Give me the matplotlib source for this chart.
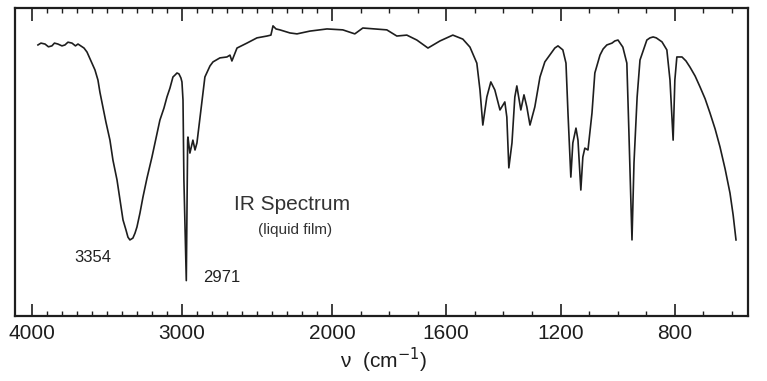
import numpy as np
import matplotlib
matplotlib.use('Agg')
import matplotlib.pyplot as plt
from matplotlib.ticker import FixedLocator, NullFormatter

plt.rcParams['font.family'] = ['Liberation Sans', 'DejaVu Sans']

# wavenumber (cm-1) and transmittance (%)
wn = [3960, 3940, 3913, 3890, 3867, 3850, 3827, 3800, 3780, 3760, 3733, 3710,
      3693, 3653, 3633, 3600, 3580, 3560, 3547, 3527, 3507, 3480, 3460, 3433,
      3413, 3393, 3373, 3360, 3347, 3327, 3313, 3300, 3280, 3260, 3233, 3200,
      3173, 3147, 3120, 3100, 3080, 3060, 3047, 3033, 3020, 3007, 3000,
      2993, 2987, 2971, 2965, 2962, 2960, 2947, 2927, 2913, 2900, 2880, 2847,
      2813, 2793, 2747, 2700, 2680, 2667, 2633, 2567, 2500, 2433, 2407, 2393,
      2373, 2347, 2280, 2233, 2147, 2033,
      1962, 1920, 1892, 1850, 1808, 1773, 1738, 1703, 1664, 1622, 1577, 1542,
      1517, 1493, 1482, 1472, 1458, 1444, 1430, 1412, 1395, 1388, 1381, 1370,
      1360, 1353, 1339, 1328, 1318, 1307, 1290, 1272, 1255, 1230, 1220, 1209,
      1192, 1181, 1174, 1164, 1157, 1146, 1139, 1129, 1122, 1115, 1104, 1090,
      1080, 1062, 1051, 1038, 1020, 1010, 999, 982, 968, 961, 950, 943, 932,
      922, 898, 887, 876, 865, 845, 828, 817, 806, 800, 793, 775, 761, 747,
      729, 712, 694, 677, 659, 642, 624, 607, 596, 586]
trans = [88.0, 88.6, 88.3, 87.4, 87.7, 88.6, 88.3, 87.7, 88.0, 88.9, 88.6, 87.7,
         88.3, 87.0, 85.7, 82.1, 79.9, 76.6, 72.7, 67.9, 63.0, 57.1, 50.6, 44.2,
         37.7, 31.2, 27.9, 25.6, 24.7, 25.3, 26.9, 28.9, 33.4, 38.6, 44.8, 51.6,
         57.8, 63.6, 67.5, 71.1, 74.0, 77.6, 78.2, 78.9, 78.6, 77.3, 76.0,
         70.1, 44.2, 11.5, 40.0, 57.1, 58.1, 52.9, 57.1, 53.9, 56.2, 64.3, 77.6,
         81.2, 82.5, 83.8, 84.1, 84.7, 82.8, 87.0, 88.6, 90.3, 90.9, 91.2, 94.2,
         93.2, 92.9, 91.9, 91.6, 92.5, 93.2,
         92.9, 91.6, 93.5, 93.2, 92.9, 90.9, 91.2, 89.6, 87.0, 89.3, 91.2, 89.9,
         87.3, 82.1, 73.4, 62.0, 71.1, 76.0, 73.4, 66.9, 69.5, 64.6, 48.1, 56.2,
         71.1, 74.7, 66.9, 71.8, 67.9, 62.0, 67.9, 77.6, 82.5, 85.7, 87.0, 87.7,
         86.4, 82.1, 65.9, 45.1, 56.2, 61.0, 57.1, 40.9, 51.6, 54.5, 53.9, 65.9,
         78.9, 84.7, 86.7, 88.0, 88.6, 89.3, 89.6, 87.3, 82.1, 60.4, 24.7, 49.7,
         71.1, 83.1, 89.6, 90.3, 90.6, 90.3, 89.0, 86.4, 76.6, 57.1, 76.6, 84.1,
         84.1, 82.8, 80.8, 77.9, 74.4, 70.5, 65.9, 60.7, 54.9, 47.7, 39.9, 32.8,
         24.7]

major_ticks = [4000, 3000, 2000, 1600, 1200, 800]
minor_ticks = [v for v in range(600, 4000, 100) if v not in major_ticks]

# chart paper scale doubles below 2000 cm-1
K = 1.905
def fwd(v):
    v = np.asarray(v, dtype=float)
    return np.where(v >= 2000, v, 2000 - (2000 - v) * K)

def inv(g):
    g = np.asarray(g, dtype=float)
    return np.where(g >= 2000, g, 2000 - (2000 - g) / K)

fig = plt.figure(figsize=(7.67, 3.81), dpi=100)
ax = fig.add_axes([15/767, 65/381, 733/767, 308/381])
ax.set_xscale('function', functions=(fwd, inv))
ax.plot(wn, trans, color='#1e1e1e', lw=1.2, solid_joinstyle='round')
ax.set_xlim(4113, 544)
ax.set_ylim(0, 100)

ax.xaxis.set_major_locator(FixedLocator(major_ticks))
ax.xaxis.set_minor_locator(FixedLocator(minor_ticks))
ax.xaxis.set_minor_formatter(NullFormatter())
ax.set_xticklabels([str(t) for t in major_ticks])
ax.tick_params(axis='x', which='major', direction='in', length=9, width=1.2,
               labelsize=15, pad=6, top=True, colors='#1e1e1e')
ax.tick_params(axis='x', which='minor', direction='in', length=3.5, width=1.0,
               top=True, color='#1e1e1e')
ax.set_yticks([])
for s in ax.spines.values():
    s.set_linewidth(1.6)
    s.set_color('#1e1e1e')

fig.text(383/767, 1 - 360/381, 'ν  (cm$^{-1}$)', ha='center', va='center',
         fontsize=15, color='#1e1e1e')
fig.text(292/767, 1 - 205/381, 'IR Spectrum', ha='center', va='center',
         fontsize=15, color='#333333')
fig.text(295/767, 1 - 230/381, '(liquid film)', ha='center', va='center',
         fontsize=11, color='#333333')
fig.text(93/767, 1 - 258/381, '3354', ha='center', va='center',
         fontsize=12, color='#222222')
fig.text(222/767, 1 - 277/381, '2971', ha='center', va='center',
         fontsize=12, color='#222222')

fig.savefig('out.png', dpi=100, facecolor='white')
